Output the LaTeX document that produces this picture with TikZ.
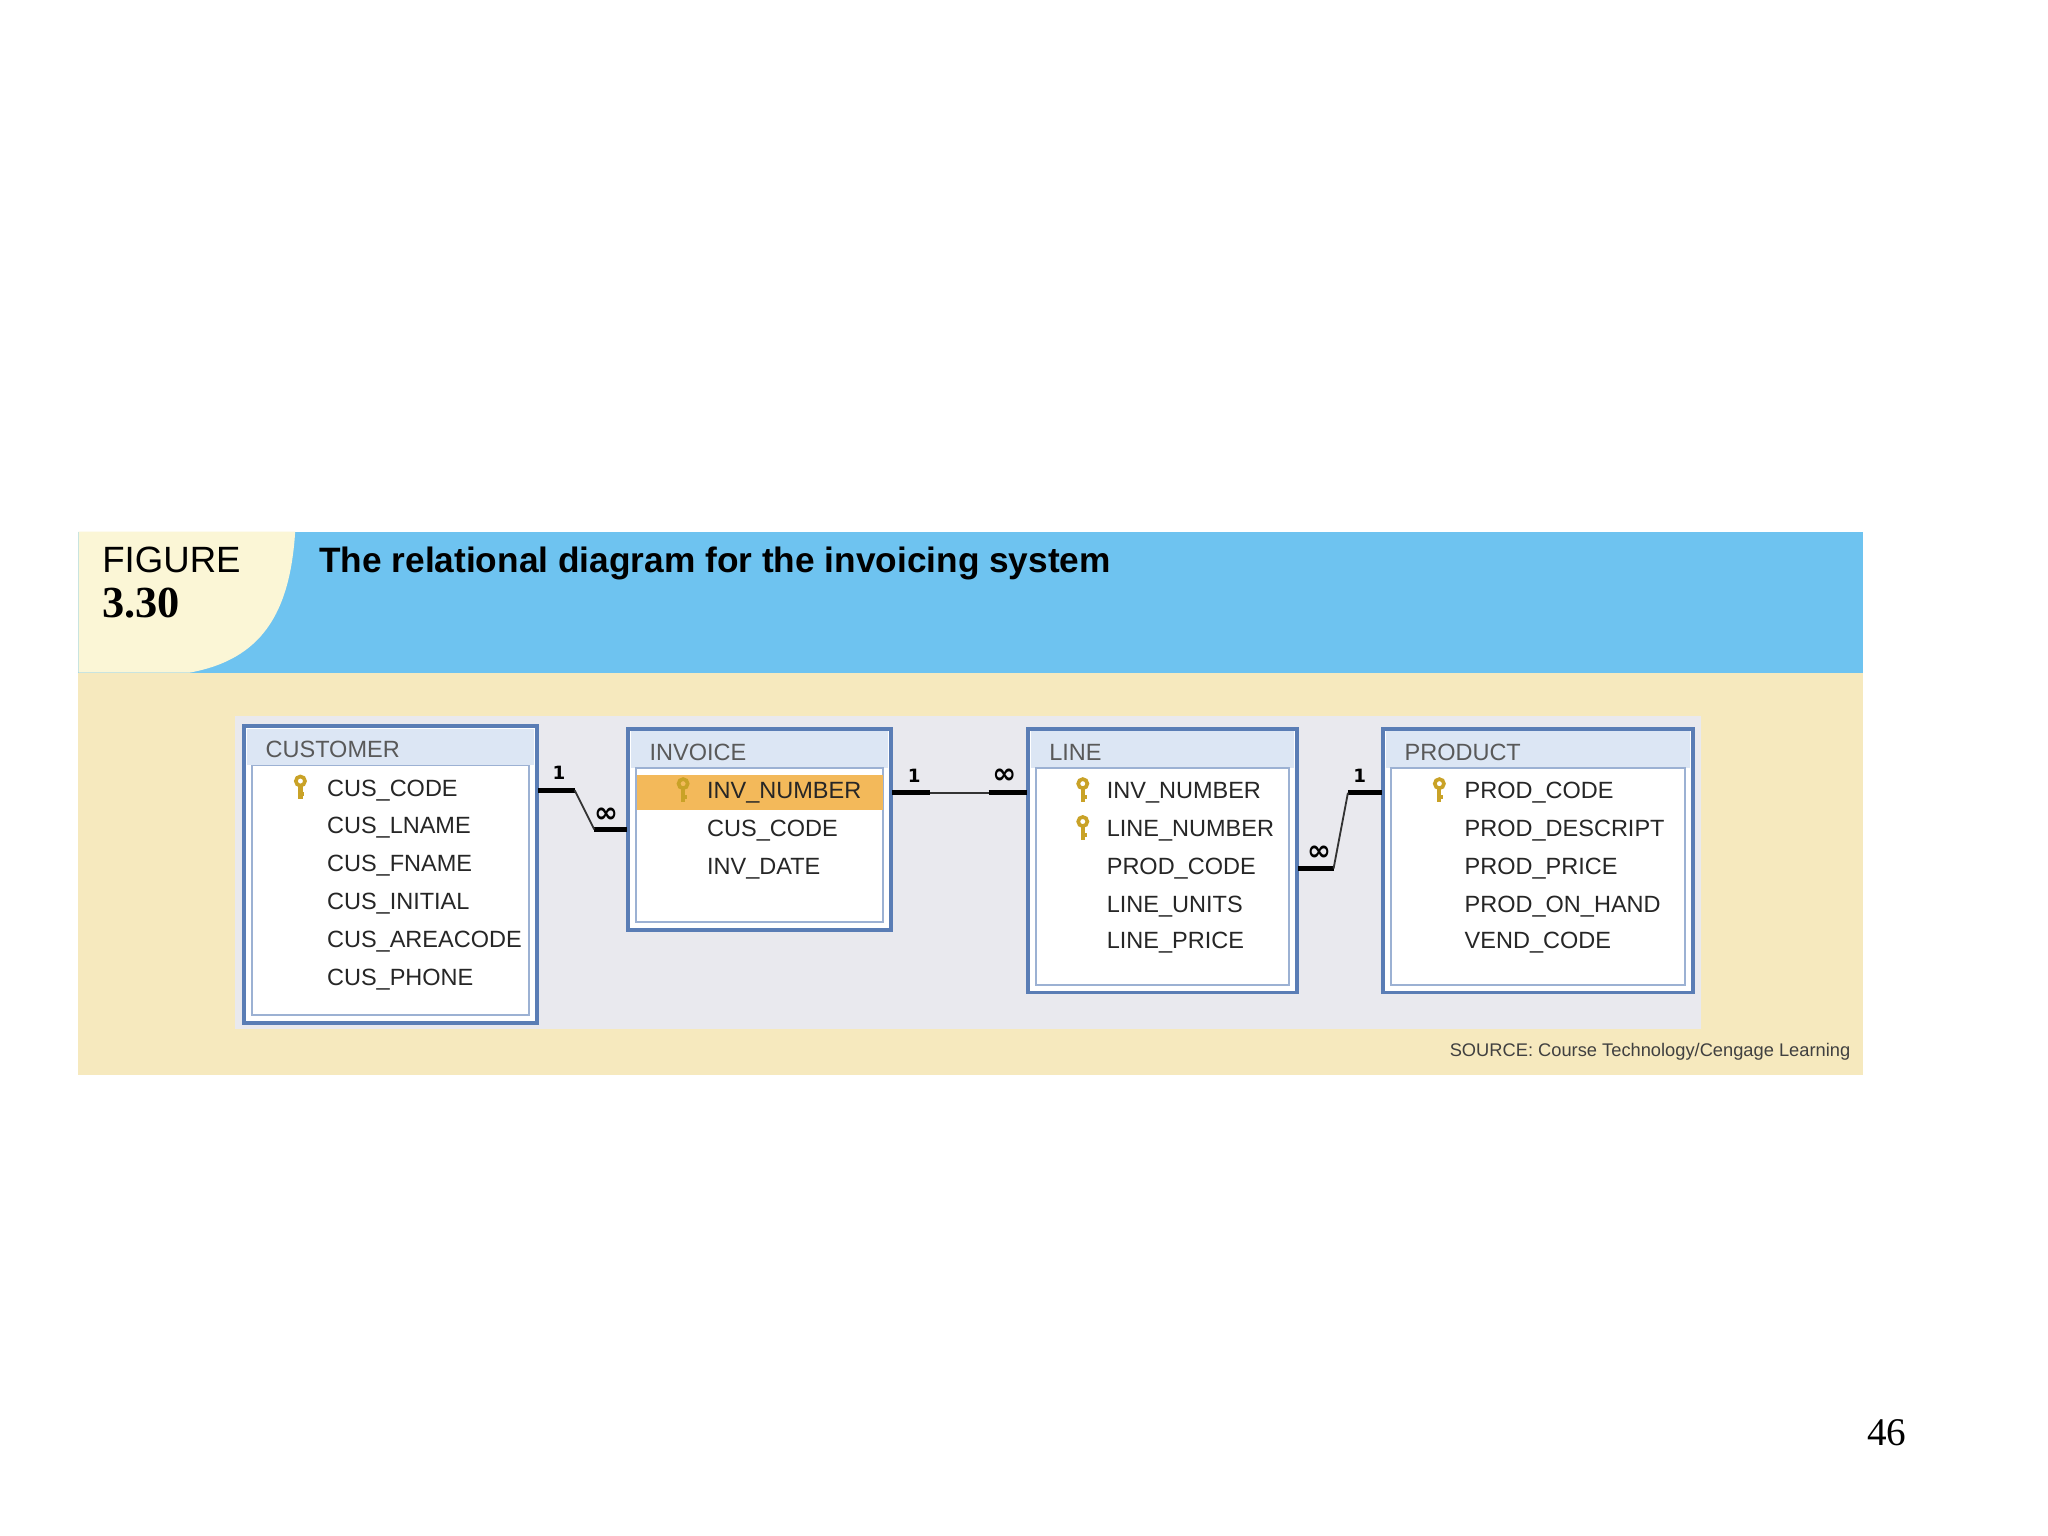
\documentclass[tikz,border=0pt]{standalone}
\usepackage{fontspec}
\setmainfont{Liberation Serif}
\setsansfont{Liberation Sans}
\newfontfamily\symf{DejaVu Sans}
\begin{document}
\begin{tikzpicture}[x=0.5pt,y=-0.5pt,
  tbl/.style={draw=tblborder,line width=1.4pt,fill=white},
  hdr/.style={fill=hdrblue},
  tname/.style={anchor=west,font=\sffamily\fontsize{9}{10}\selectfont,text=gray!70!black,inner sep=0},
  row/.style={anchor=west,font=\sffamily\fontsize{9}{10}\selectfont,text=black!85,inner sep=0},
  card/.style={font=\symf\bfseries\fontsize{7}{8}\selectfont,inner sep=0},
  inf/.style={font=\symf\bfseries\fontsize{11}{12}\selectfont,inner sep=0},
  rel/.style={line width=0.7pt,black!80},
  relthick/.style={line width=2pt,black}]
\definecolor{tblborder}{HTML}{5A7DB5}
\definecolor{hdrblue}{HTML}{DCE6F4}
\definecolor{banner}{HTML}{6EC3F0}
\definecolor{body}{HTML}{F6E9BE}
\definecolor{pale}{HTML}{FBF6D6}
\definecolor{panel}{HTML}{E9E9EE}
\definecolor{keygold}{HTML}{C9A227}
\definecolor{sel}{HTML}{F3B95A}
\useasboundingbox (0,0) rectangle (1568,1176);
\fill[white] (0,0) rectangle (1568,1176);
% banner
\fill[body] (60,407) rectangle (1426,823);
\fill[banner] (60,407) rectangle (1426,515);
\fill[pale] (60,407) -- (226,407) .. controls (222,470) and (200,505) .. (145,515) -- (60,515) -- cycle;
\node[anchor=north west,align=left,inner sep=0,font=\sffamily\fontsize{14}{16}\selectfont] (fig) at (78,418) {FIGURE};
\node[anchor=north west,inner sep=0,font=\rmfamily\bfseries\fontsize{17}{18}\selectfont] (num) at (78,450) {3.30};
\node[anchor=north west,inner sep=0,font=\sffamily\bfseries\fontsize{13.5}{16}\selectfont] (title) at (244,418) {The relational diagram for the invoicing system};
\fill[panel] (180,548) rectangle (1302,788);
\node[anchor=east,inner sep=0,font=\sffamily\fontsize{7}{8}\selectfont,text=black!75] (src) at (1417,805) {SOURCE: Course Technology/Cengage Learning};
\node[anchor=east,inner sep=0,font=\rmfamily\fontsize{15}{16}\selectfont] (pg) at (1460,1097) {46};
% tables
\newcommand{\tbl}[6]{% name x1 y1 x2 y2 title
  \draw[tbl] (#2,#3) rectangle (#4,#5);
  \fill[hdr] (#2+2,#3+2) rectangle (#4-2,#3+30);
  \draw[tblborder!60,line width=0.6pt] (#2+6,#3+30) -- (#4-6,#3+30) -- (#4-6,#5-6) -- (#2+6,#5-6) -- cycle;
  \node[tname] (#1) at (#2+16,#3+18) {#6};}
\newcommand{\keyic}[2]{%
  \draw[keygold,line width=1.4pt] (#1,#2-6) circle (3.5);
  \draw[keygold,line width=1.6pt] (#1,#2-2) -- (#1,#2+8) (#1,#2+4) -- (#1+3,#2+4);}
\tbl{customer}{187}{556}{411}{783}{CUSTOMER}
\tbl{invoice}{481}{558}{682}{712}{INVOICE}
\tbl{line}{787}{558}{993}{760}{LINE}
\tbl{product}{1059}{558}{1296}{760}{PRODUCT}
\fill[sel] (488,593) rectangle (676,620);
% rows
\keyic{230}{604}
\node[row] (c1) at (250,605) {CUS\_CODE};
\node[row] (c2) at (250,634) {CUS\_LNAME};
\node[row] (c3) at (250,663) {CUS\_FNAME};
\node[row] (c4) at (250,692) {CUS\_INITIAL};
\node[row] (c5) at (250,721) {CUS\_AREACODE};
\node[row] (c6) at (250,750) {CUS\_PHONE};
\keyic{523}{606}
\node[row] (i1) at (541,607) {INV\_NUMBER};
\node[row] (i2) at (541,636) {CUS\_CODE};
\node[row] (i3) at (541,665) {INV\_DATE};
\keyic{829}{606}
\keyic{829}{635}
\node[row] (l1) at (847,607) {INV\_NUMBER};
\node[row] (l2) at (847,636) {LINE\_NUMBER};
\node[row] (l3) at (847,665) {PROD\_CODE};
\node[row] (l4) at (847,694) {LINE\_UNITS};
\node[row] (l5) at (847,722) {LINE\_PRICE};
\keyic{1102}{606}
\node[row] (p1) at (1121,607) {PROD\_CODE};
\node[row] (p2) at (1121,636) {PROD\_DESCRIPT};
\node[row] (p3) at (1121,665) {PROD\_PRICE};
\node[row] (p4) at (1121,694) {PROD\_ON\_HAND};
\node[row] (p5) at (1121,722) {VEND\_CODE};
% connectors
\coordinate (a1) at (412,605); \coordinate (a2) at (440,605);
\coordinate (a3) at (455,635); \coordinate (a4) at (480,635);
\draw[relthick] (a1) -- (a2); \draw[relthick] (a3) -- (a4);
\draw[rel] (a2) -- (a3);
\node[card] (k1) at (428,592) {1};
\node[inf] (k2) at (464,624) {∞};
\coordinate (b1) at (683,607); \coordinate (b2) at (712,607);
\coordinate (b3) at (757,607); \coordinate (b4) at (786,607);
\draw[relthick] (b1) -- (b2); \draw[relthick] (b3) -- (b4);
\draw[rel] (b2) -- (b3);
\node[card] (k3) at (700,594) {1};
\node[inf] (k4) at (769,594) {∞};
\coordinate (d1) at (994,665); \coordinate (d2) at (1021,665);
\coordinate (d3) at (1032,607); \coordinate (d4) at (1058,607);
\draw[relthick] (d1) -- (d2); \draw[relthick] (d3) -- (d4);
\draw[rel] (d2) -- (d3);
\node[inf] (k5) at (1010,653) {∞};
\node[card] (k6) at (1041,594) {1};
\end{tikzpicture}
\end{document}
